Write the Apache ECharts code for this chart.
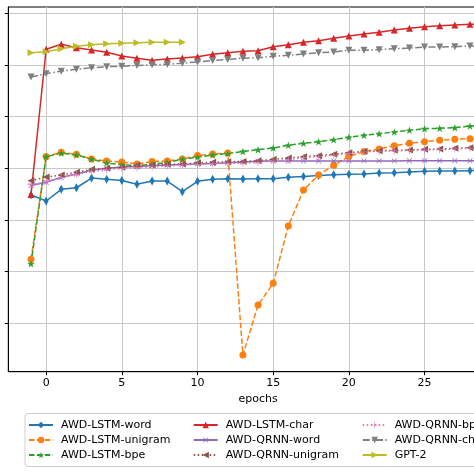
<!DOCTYPE html>
<html><head><meta charset="utf-8">
<script src="https://cdn.jsdelivr.net/npm/echarts@6/dist/echarts.min.js"></script>
<style>html,body{margin:0;padding:0;background:#fff}#c{width:474px;height:474px}</style>
</head><body><div id="c"></div>
<script>
const epochs = [-1,0,1,2,3,4,5,6,7,8,9,10,11,12,13,14,15,16,17,18,19,20,21,22,23,24,25,26,27,28,29];
const gptEpochs = [-1,0,1,2,3,4,5,6,7,8,9];
const xTicks = [0,5,10,15,20,25,30];
const yTicks = [60,65,70,75,80,85,90];

const lstmWord = [72.42,71.84,72.97,73.12,74.06,73.95,73.82,73.46,73.77,73.77,72.74,73.74,73.94,73.99,73.97,73.99,73.99,74.13,74.21,74.30,74.37,74.42,74.45,74.55,74.58,74.64,74.71,74.74,74.74,74.77,74.80];
const lstmUnigram = [66.19,76.14,76.55,76.36,75.90,75.71,75.61,75.42,75.66,75.71,75.90,76.24,76.38,76.48,56.93,61.77,63.87,69.42,72.90,74.35,75.29,76.16,76.63,76.87,77.19,77.42,77.58,77.71,77.81,77.87,77.92];
const lstmBpe = [65.77,76.12,76.48,76.29,75.90,75.51,75.35,75.25,75.39,75.58,75.87,76.09,76.29,76.43,76.63,76.80,76.97,77.23,77.42,77.58,77.77,78.00,78.19,78.35,78.51,78.68,78.83,78.87,78.93,79.09,79.15];
const lstmChar = [72.47,86.52,87.00,86.67,86.45,86.23,85.87,85.65,85.45,85.58,85.67,85.80,86.03,86.19,86.32,86.38,86.77,86.96,87.19,87.35,87.58,87.80,88.00,88.16,88.38,88.55,88.70,88.80,88.87,88.94,88.98];
const qrnnWord = [73.34,73.66,74.11,74.45,74.82,75.00,75.13,75.18,75.24,75.32,75.37,75.42,75.47,75.53,75.61,75.68,75.70,75.70,75.71,75.71,75.71,75.72,75.72,75.72,75.72,75.73,75.73,75.73,75.73,75.74,75.74];
const qrnnUnigram = [73.80,74.16,74.35,74.62,74.90,75.00,75.10,75.29,75.32,75.39,75.42,75.54,75.58,75.64,75.66,75.74,75.87,76.00,76.12,76.22,76.36,76.51,76.65,76.70,76.74,76.77,76.84,76.87,76.94,76.99,77.02];
const qrnnBpe = [73.39,73.70,74.13,74.42,74.67,74.84,75.00,75.06,75.13,75.22,75.32,75.39,75.45,75.48,75.48,75.58,75.71,75.83,76.03,76.12,76.26,76.45,76.58,76.65,76.68,76.70,76.77,76.80,76.87,76.94,76.97];
const qrnnChar = [83.84,84.16,84.40,84.58,84.73,84.83,84.88,84.95,85.03,85.07,85.17,85.30,85.43,85.54,85.66,85.70,85.84,85.94,86.06,86.19,86.26,86.42,86.42,86.48,86.57,86.64,86.74,86.74,86.77,86.84,86.86];
const gpt2 = [86.19,86.28,86.57,86.81,86.96,87.06,87.10,87.16,87.19,87.19,87.19];

const names = ['AWD-LSTM-word','AWD-LSTM-unigram','AWD-LSTM-bpe','AWD-LSTM-char','AWD-QRNN-word','AWD-QRNN-unigram','AWD-QRNN-bpe','AWD-QRNN-char','GPT-2'];

const STAR = 'path://M0,-1L0.225,-0.309L0.951,-0.309L0.363,0.118L0.588,0.809L0,0.382L-0.588,0.809L-0.363,0.118L-0.951,-0.309L-0.225,-0.309Z';
const PLUS = 'path://M-0.1,-1L0.1,-1L0.1,-0.1L1,-0.1L1,0.1L0.1,0.1L0.1,1L-0.1,1L-0.1,0.1L-1,0.1L-1,-0.1L-0.1,-0.1Z';

function pairs(xs, ys){ return ys.map((v,i)=>[xs[i], v]); }

function mk(name, xs, ys, color, lineType, symbol, size, rotate){
  return {
    name, type:'line', data: pairs(xs, ys), color,
    symbol, symbolSize: size, symbolRotate: rotate || 0, symbolKeepAspect: true,
    lineStyle:{ width:1.5, type: lineType, color },
    itemStyle:{ color, borderWidth:0 },
    emphasis:{ disabled:true }, animation:false
  };
}

const series = [
  mk(names[0], epochs, lstmWord, '#1f77b4', 'solid', 'diamond', [5,9]),
  mk(names[1], epochs, lstmUnigram, '#ff7f0e', [5.5,2.4], 'circle', 7),
  mk(names[2], epochs, lstmBpe, '#2ca02c', [5.5,2.4], STAR, 8),
  mk(names[3], epochs, lstmChar, '#d62728', 'solid', 'triangle', 7),
  mk(names[4], epochs, qrnnWord, '#9467bd', 'solid', PLUS, 7, 45),
  mk(names[5], epochs, qrnnUnigram, '#8c564b', [1.5,2.5], 'triangle', 7, 90),
  mk(names[6], epochs, qrnnBpe, '#e377c2', [1.5,2.5], PLUS, 7),
  mk(names[7], epochs, qrnnChar, '#7f7f7f', [7,2.4,1.5,2.4], 'triangle', 7, 180),
  mk(names[8], gptEpochs, gpt2, '#bcbd22', 'solid', 'triangle', 7, -90)
];

const legendBase = {
  orient:'vertical', itemWidth:24, itemHeight:8, itemGap:4, padding:0,
  textStyle:{ fontFamily:'DejaVu Sans', fontSize:11, color:'#000', padding:[0,0,0,3] }
};

const chart = echarts.init(document.getElementById('c'), null, {renderer:'canvas'});
chart.setOption({
  animation:false,
  backgroundColor:'#fff',
  grid:{ left:8.3, top:7, width:499.5, height:364.7, outerBoundsMode:'none', containLabel:false, show:true, borderColor:'#000', borderWidth:1 },
  xAxis:{
    type:'value', min:-2.5, max:30.5,
    name:'epochs', nameLocation:'middle', nameGap:21,
    nameTextStyle:{ fontFamily:'DejaVu Sans', fontSize:11, color:'#000' },
    axisLine:{ show:true, onZero:false, lineStyle:{ color:'#000', width:1 } },
    axisTick:{ show:true, customValues:xTicks, length:3.5, lineStyle:{ color:'#000' } },
    axisLabel:{ customValues:xTicks, margin:6, fontFamily:'DejaVu Sans', fontSize:11, color:'#000' },
    splitLine:{ show:true, lineStyle:{ color:'#c8c8c8', width:1 } }
  },
  yAxis:{
    type:'value', min:55.32, max:90.61,
    axisLine:{ show:true, onZero:false, lineStyle:{ color:'#000', width:1 } },
    axisTick:{ show:true, customValues:yTicks, length:3.5, lineStyle:{ color:'#000' } },
    axisLabel:{ show:false, customValues:yTicks },
    splitLine:{ show:true, lineStyle:{ color:'#c8c8c8', width:1 } }
  },
  graphic:[{ type:'rect', z:-1, shape:{ x:25, y:413.5, width:520, height:53, r:3 }, style:{ fill:'#fff', stroke:'#d0d0d0', lineWidth:1 } }],
  legend:[
    Object.assign({}, legendBase, { left:28, top:419.5, data:names.slice(0,3) }),
    Object.assign({}, legendBase, { left:192.7, top:419.5, data:names.slice(3,6) }),
    Object.assign({}, legendBase, { left:361.7, top:419.5, data:names.slice(6,9) })
  ],
  series
});
</script></body></html>
